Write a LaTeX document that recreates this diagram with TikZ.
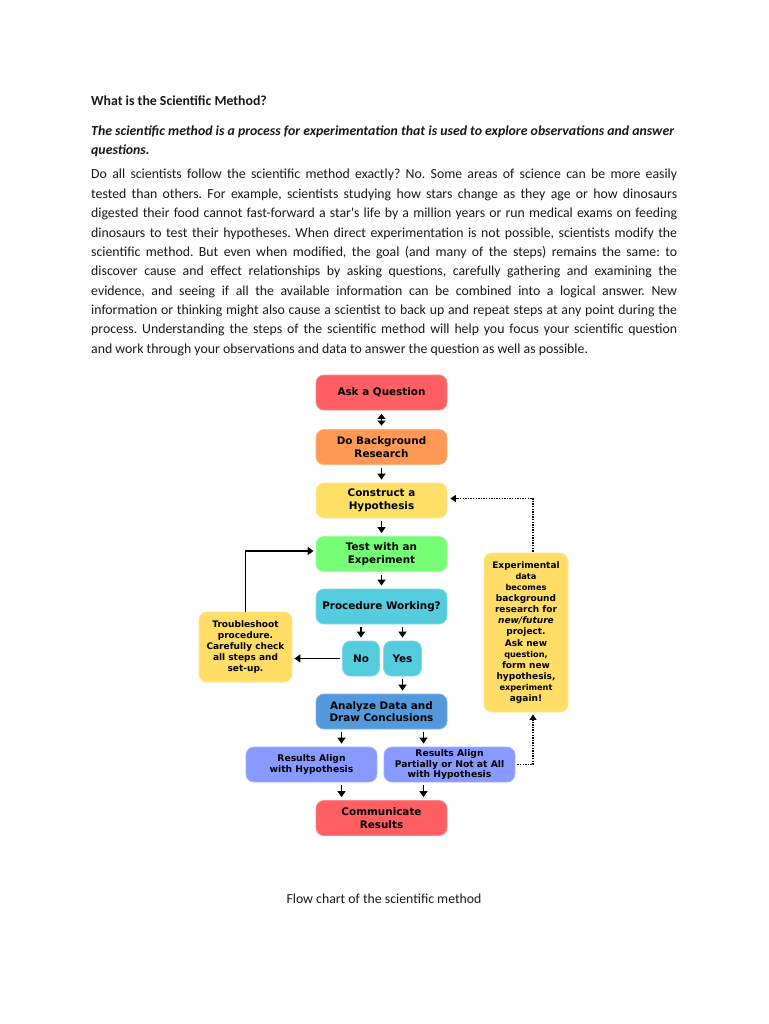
\documentclass[tikz,border=0pt]{standalone}
\usepackage{fontspec}
\setmainfont{Carlito}
\newfontfamily\dv{DejaVu Sans}
\usetikzlibrary{arrows.meta,calc}
\definecolor{cred}{RGB}{255,94,98}
\definecolor{corange}{RGB}{255,153,85}
\definecolor{cyellow}{RGB}{255,224,102}
\definecolor{cgreen}{RGB}{118,255,118}
\definecolor{ccyan}{RGB}{85,204,221}
\definecolor{cblue}{RGB}{85,153,221}
\definecolor{clav}{RGB}{136,153,255}
\definecolor{cnote}{RGB}{255,221,102}
\newcommand\jline[1]{\hbox to 586pt{#1}}
\frenchspacing
\tikzset{
  box/.style={rounded corners=8pt, fill=#1, draw=#1!75!white, line width=0.8pt,
    minimum width=131pt, minimum height=35pt, inner sep=1pt, align=center,
    font=\dv\bfseries\fontsize{10.4}{12.5}\selectfont, text=black},
  body/.style={anchor=base west, inner sep=0pt, font=\fontsize{13.8}{19.3}\selectfont, text=black!90},
  arr/.style={-{Triangle[length=6pt,width=8pt]}, line width=1.8pt, shorten >=3pt, shorten <=3pt},
  arrboth/.style={{Triangle[length=5pt,width=8pt]}-{Triangle[length=5pt,width=8pt]}, line width=1.8pt, shorten >=3.5pt, shorten <=3.5pt},
  dotarr/.style={-{Triangle[length=5.5pt,width=7pt]}, line width=1.4pt, dash pattern=on 1.4pt off 1.2pt},
}
\begin{document}
\begin{tikzpicture}[x=1pt,y=-1pt]
\useasboundingbox[fill=white] (0,0) rectangle (768,1024);
% text
\node[body, font=\bfseries\fontsize{13.8}{19.3}\selectfont] (title) at (91,106) {What is the Scientific Method?};
\node[body, font=\bfseries\itshape\fontsize{13.8}{19.3}\selectfont] (sub1) at (91,136) {The scientific method is a process for experimentation that is used to explore observations and answer};
\node[body, font=\bfseries\itshape\fontsize{13.8}{19.3}\selectfont] (sub2) at (91,155) {questions.};
\node[body] (b1) at (91,179) {\jline{Do all scientists follow the scientific method exactly? No. Some areas of science can be more easily}};
\node[body] (b2) at (91,198.3) {\jline{tested than others. For example, scientists studying how stars change as they age or how dinosaurs}};
\node[body] (b3) at (91,217.7) {\jline{digested their food cannot fast-forward a star\textquotesingle s life by a million years or run medical exams on feeding}};
\node[body] (b4) at (91,237) {\jline{dinosaurs to test their hypotheses. When direct experimentation is not possible, scientists modify the}};
\node[body] (b5) at (91,256.3) {\jline{scientific method. But even when modified, the goal (and many of the steps) remains the same: to}};
\node[body] (b6) at (91,275.7) {\jline{discover cause and effect relationships by asking questions, carefully gathering and examining the}};
\node[body] (b7) at (91,295) {\jline{evidence, and seeing if all the available information can be combined into a logical answer. New}};
\node[body] (b8) at (91,314.3) {\jline{information or thinking might also cause a scientist to back up and repeat steps at any point during the}};
\node[body] (b9) at (91,333.7) {\jline{process. Understanding the steps of the scientific method will help you focus your scientific question}};
\node[body] (b10) at (91,353) {and work through your observations and data to answer the question as well as possible.};
\node[body, anchor=base] (cap) at (384,903) {Flow chart of the scientific method};
% flow chart
\node[box=cred] (q) at (381.5,392.5) {Ask a Question};
\node[box=corange] (bg) at (381.5,447) {Do Background\\Research};
\node[box=cyellow] (hyp) at (381.5,500.5) {Construct a\\Hypothesis};
\node[box=cgreen] (test) at (381.5,554) {Test with an\\Experiment};
\node[box=ccyan] (proc) at (381.5,606.5) {Procedure Working?};
\node[box=ccyan, minimum width=37pt] (no) at (361,658.5) {No};
\node[box=ccyan, minimum width=38pt] (yes) at (402.5,658.5) {Yes};
\node[box=cnote, minimum width=93pt, minimum height=70pt, font=\dv\bfseries\fontsize{9}{11}\selectfont] (tr) at (245.5,647) {Troubleshoot\\procedure.\\Carefully check\\all steps and\\set-up.};
\node[box=cblue] (ana) at (381.5,711.5) {Analyze Data and\\Draw Conclusions};
\node[box=clav, font=\dv\bfseries\fontsize{9.2}{11}\selectfont] (ra) at (311.5,764.5) {Results Align\\with Hypothesis};
\node[box=clav, font=\dv\bfseries\fontsize{9.2}{10.2}\selectfont] (rp) at (449.5,764.5) {Results Align\\Partially or Not at All\\with Hypothesis};
\node[box=cred] (comm) at (381.5,818) {Communicate\\Results};
\node[box=cnote, minimum width=84pt, minimum height=159pt, font=\dv\bfseries\fontsize{9}{11.1}\selectfont] (ex) at (526,632.5)
  {Experimental\\{\fontsize{8.2}{11.1}\selectfont data}\\{\fontsize{8.2}{11.1}\selectfont becomes}\\background\\research for\\\textit{new/future}\\project.\\Ask new\\{\fontsize{8.2}{11.1}\selectfont question,}\\form new\\hypothesis,\\{\fontsize{8.2}{11.1}\selectfont experiment}\\again!};
% connectors
\draw[arrboth] (q.south) -- (bg.north);
\draw[arr] (bg.south) -- (hyp.north);
\draw[arr] (hyp.south) -- (test.north);
\draw[arr] (test.south) -- (proc.north);
\draw[arr] (proc.south -| no) -- (no.north);
\draw[arr] (proc.south -| yes) -- (yes.north);
\draw[arr, shorten >=2pt, shorten <=2pt] (no.west) -- (no.west -| tr.east);
\draw[arr, shorten <=0pt, shorten >=2pt] (tr.north) |- ([yshift=3pt]test.west);
\draw[arr] (yes.south) -- (yes.south |- ana.north);
\draw[arr] ([xshift=-40pt]ana.south) -- ([xshift=-40pt]ana.south |- ra.north);
\draw[arr] ([xshift=42pt]ana.south) -- ([xshift=42pt]ana.south |- rp.north);
\draw[arr] ([xshift=-40pt]comm.north |- ra.south) -- ([xshift=-40pt]comm.north);
\draw[arr] ([xshift=42pt]comm.north |- rp.south) -- ([xshift=42pt]comm.north);
\draw[dotarr, shorten <=2pt, shorten >=2pt] (rp.east) -| ([xshift=7pt]ex.south);
\draw[dotarr, shorten <=1pt, shorten >=3pt] ([xshift=7pt]ex.north) |- ([yshift=2pt]hyp.east);
\end{tikzpicture}
\end{document}
